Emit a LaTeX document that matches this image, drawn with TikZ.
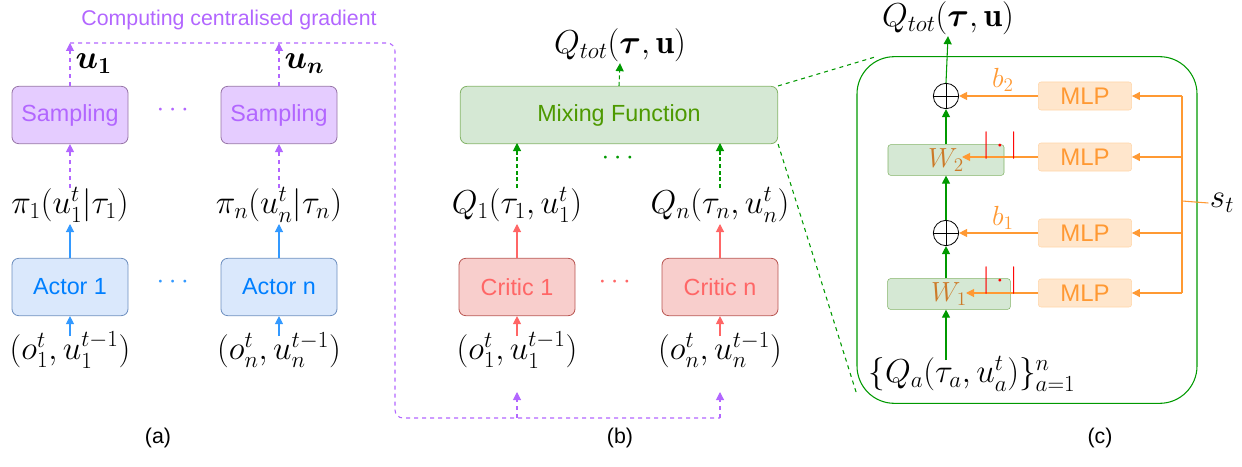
\documentclass[tikz,border=0pt]{standalone}
\usepackage{amsmath,bm}
\usepackage{fontspec}
\setsansfont{Liberation Sans}
\usetikzlibrary{arrows.meta}
\definecolor{pur}{HTML}{B266FF}
\definecolor{purf}{HTML}{E5CCFF}
\definecolor{purd}{HTML}{9673A6}
\definecolor{blu}{HTML}{3399FF}
\definecolor{bluf}{HTML}{DAE8FC}
\definecolor{blud}{HTML}{6C8EBF}
\definecolor{bluT}{HTML}{007FFF}
\definecolor{red1}{HTML}{FF6666}
\definecolor{redf}{HTML}{F8CECC}
\definecolor{redd}{HTML}{B85450}
\definecolor{grn}{HTML}{009900}
\definecolor{grnT}{HTML}{4D9900}
\definecolor{grnf}{HTML}{D5E8D4}
\definecolor{grnd}{HTML}{82B366}
\definecolor{org}{HTML}{FF9933}
\definecolor{orgf}{HTML}{FFE6CC}
\definecolor{orgd}{HTML}{FFD5A8}
\begin{document}
\begin{tikzpicture}[x=0.75pt,y=-0.75pt,
  box/.style={draw,rounded corners=5pt,minimum width=87pt,minimum height=43pt,font=\sffamily\fontsize{17.5}{20}\selectfont,line width=0.6pt},
  samp/.style={box,fill=purf,draw=purd,text=pur},
  act/.style={box,fill=bluf,draw=blud,text=bluT},
  crit/.style={box,fill=redf,draw=redd,text=red1},
  mlp/.style={draw=orgd,fill=orgf,rounded corners=2pt,minimum width=70pt,minimum height=21pt,text=org,font=\sffamily\fontsize{18}{20}\selectfont},
  wbox/.style={draw=grnd,fill=grnf,rounded corners=2pt,minimum height=23pt,text=org!80!black,font=\fontsize{22}{24}\selectfont,inner sep=0pt},
  lab/.style={font=\fontsize{25}{28}\selectfont,inner sep=1pt},
  slab/.style={font=\fontsize{21}{24}\selectfont,inner sep=1pt},
  arr/.style={-{Triangle[length=6pt,width=6pt]},line width=0.8pt},
  darr/.style={arr,dashed,pur},
  dots/.style={font=\fontsize{22}{24}\selectfont},
  captxt/.style={font=\sffamily\fontsize{16}{18}\selectfont}
]
\useasboundingbox (0,0) rectangle (1242,467);
% (a)
\node[font=\sffamily\fontsize{16}{18}\selectfont,text=pur] (title) at (229,20) {Computing centralised gradient};
\node[samp] (s1) at (70,115) {Sampling};
\node[samp] (sn) at (279,115) {Sampling};
\node[dots,text=pur] (d1) at (175,110) {$\cdots$};
\node[lab,anchor=west] (u1) at (74,64) {$\bm{u_1}$};
\node[lab,anchor=west] (un) at (283,64) {$\bm{u_n}$};
\coordinate (t1) at (70,43); \coordinate (tn) at (279,43);
\draw[darr] (s1.north) -- (t1);
\draw[darr] (sn.north) -- (tn);
\node[lab] (p1) at (70,205) {$\pi_1(u_1^t|\tau_1)$};
\node[lab] (pn) at (279,205) {$\pi_n(u_n^t|\tau_n)$};
\draw[darr] (70,188) -- (s1.south);
\draw[darr] (279,188) -- (sn.south);
\node[act] (a1) at (70,287) {Actor 1};
\node[act] (an) at (279,287) {Actor n};
\node[dots,text=blu] (d2) at (175,282) {$\cdots$};
\draw[arr,blu] (a1.north) -- (70,224);
\draw[arr,blu] (an.north) -- (279,224);
\node[lab] (o1) at (70,350) {$(o_1^t,u_1^{t-1})$};
\node[lab] (on) at (279,350) {$(o_n^t,u_n^{t-1})$};
\draw[arr,blu] (70,336) -- (a1.south);
\draw[arr,blu] (279,336) -- (an.south);
\node[captxt] (ca) at (158,438) {(a)};
% purple feedback
\draw[pur,dashed,line width=0.8pt,rounded corners=6pt] (t1) -- (395,43) -- (395,418) -- (720,418);
\draw[darr] (517,418) -- (517,392);
\draw[darr] (720,418) -- (720,392);
% (b)
\node[box,fill=grnf,draw=grnd,text=grnT,minimum width=238pt] (mix) at (619,115) {Mixing Function};
\node[lab] (qt) at (620,45) {$Q_{tot}(\bm{\tau},\mathbf{u})$};
\draw[arr,grn,densely dashed] (mix.north) -- (qt.south);
\node[lab] (q1) at (517,205) {$Q_1(\tau_1,u_1^t)$};
\node[lab] (qn) at (720,205) {$Q_n(\tau_n,u_n^t)$};
\draw[arr,grn,densely dashed] (517,188) -- (517,143);
\draw[arr,grn,densely dashed] (720,188) -- (720,143);
\node[dots,text=grn] (d3) at (620,158) {$\cdots$};
\node[crit] (c1) at (517,287) {Critic 1};
\node[crit] (cn) at (720,287) {Critic n};
\node[dots,text=red1] (d4) at (617,282) {$\cdots$};
\draw[arr,red1] (c1.north) -- (517,224);
\draw[arr,red1] (cn.north) -- (720,224);
\node[lab] (ob1) at (517,350) {$(o_1^t,u_1^{t-1})$};
\node[lab] (obn) at (720,350) {$(o_n^t,u_n^{t-1})$};
\draw[arr,red1] (517,336) -- (c1.south);
\draw[arr,red1] (720,336) -- (cn.south);
\node[captxt] (cb) at (620,438) {(b)};
% (c)
\node[draw=grn,line width=0.8pt,rounded corners=28pt,minimum width=255pt,minimum height=260pt] (big) at (1027,230) {};
\draw[grn,dashed,line width=0.8pt] (mix.north east) -- (875,57);
\draw[grn,dashed,line width=0.8pt] (mix.south east) -- (857,395);
\node[lab] (qtc) at (948,18) {$Q_{tot}(\bm{\tau},\mathbf{u})$};
\node[font=\fontsize{23}{26}\selectfont,inner sep=1pt] (qa) at (972,374) {$\{Q_a(\tau_a,u_a^t)\}_{a=1}^n$};
\node[wbox,minimum width=92pt] (w1) at (949,294) {$W_1$};
\node[wbox,minimum width=87pt] (w2) at (946,160) {$W_2$};
\node[draw,circle,inner sep=0pt,minimum size=19pt,line width=0.6pt] (o1p) at (946,233) {};
\draw (o1p.north) -- (o1p.south) (o1p.west) -- (o1p.east);
\node[draw,circle,inner sep=0pt,minimum size=19pt,line width=0.6pt] (o2p) at (946,96) {};
\draw (o2p.north) -- (o2p.south) (o2p.west) -- (o2p.east);
\draw[arr,grn] (946,360) -- (946,0 |- w1.south);
\draw[arr,grn] (946,0 |- w1.north) -- (o1p.south);
\draw[arr,grn] (o1p.north) -- (w2.south);
\draw[arr,grn] (w2.north) -- (o2p.south);
\draw[arr,grn] (o2p.north) -- (qtc.south);
\node[mlp] (m1) at (1085,96) {MLP};
\node[mlp] (m2) at (1085,157) {MLP};
\node[mlp] (m3) at (1085,233) {MLP};
\node[mlp] (m4) at (1085,293) {MLP};
\node[lab] (st) at (1222,203) {$s_t$};
\coordinate (sj) at (1182,201);
\draw[org,line width=0.8pt] (st.west) -- (sj);
\draw[org,line width=0.8pt] (1182,96) -- (1182,293);
\foreach \m in {m1,m2,m3,m4} \draw[arr,org] (1182,0 |- \m.east) -- (\m.east);
\draw[arr,org] (m1.west) -- (o2p.east);
\draw[arr,org] (m2.west) -- (962,157);
\draw[arr,org] (m3.west) -- (o1p.east);
\draw[arr,org] (m4.west) -- (966,293);
\node[slab,text=org] (b2) at (1003,80) {$b_2$};
\node[slab,text=org] (b1) at (1003,218) {$b_1$};
\node[slab,text=red] (abs2) at (1000,146) {$|\cdot|$};
\node[slab,text=red] (abs1) at (1000,281) {$|\cdot|$};
\node[captxt] (cc) at (1100,438) {(c)};
\end{tikzpicture}
\end{document}
